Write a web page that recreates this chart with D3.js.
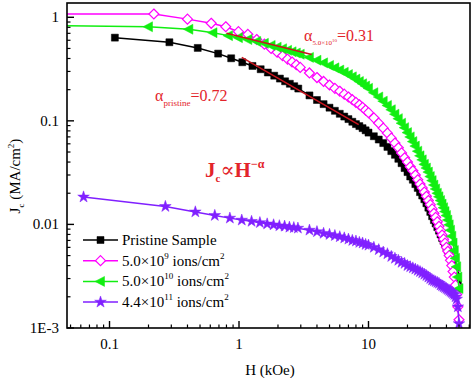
<!DOCTYPE html>
<html>
<head>
<meta charset="utf-8">
<script src="https://cdn.jsdelivr.net/npm/d3@7"></script>
<style>
  html, body { margin: 0; padding: 0; background: #fff; }
</style>
</head>
<body>
<div id="chart"></div>
<script>
// H (kOe) and Jc (MA/cm2)
const hPristine = [0.11, 0.29, 0.48, 0.69, 0.87, 1.06, 1.27, 1.47, 1.67, 1.87, 2.07, 2.27, 2.47, 2.67, 2.87, 3.5, 4, 4.5, 5, 5.5, 6, 6.5, 7, 7.5, 8, 8.5, 9, 9.5, 10,
  11, 12, 13, 14, 15, 16, 17, 18, 19, 20, 21, 22, 23, 24, 25, 26, 27, 28, 29, 30, 31, 32, 33, 34, 35, 36, 37, 38, 39, 40, 41, 42, 43, 44, 45, 46, 47, 48, 49, 50]
const jPristine = [0.636, 0.574, 0.506, 0.446, 0.402, 0.368, 0.339, 0.315, 0.293, 0.273, 0.256, 0.241, 0.228, 0.216, 0.205, 0.176, 0.159, 0.145, 0.134, 0.125, 0.117, 0.11, 0.104, 0.098, 0.093, 0.089, 0.085, 0.081, 0.077,
  0.071, 0.066, 0.061, 0.056, 0.051, 0.047, 0.043, 0.039, 0.035, 0.032, 0.029, 0.027, 0.0245, 0.0225, 0.0205, 0.019, 0.0175, 0.016, 0.0145, 0.0132, 0.012, 0.011, 0.0102, 0.0094, 0.0087, 0.008, 0.0074, 0.0069, 0.0064, 0.006, 0.0056, 0.0052, 0.0048, 0.0045, 0.0041, 0.0038, 0.0034, 0.0031, 0.0027, 0.0024]

const hIon9 = [0.02, 0.22, 0.40, 0.61, 0.79, 0.99, 1.17, 1.37, 1.57, 1.77, 1.97, 2.17, 2.37, 2.57, 2.77, 2.97, 3.5, 4, 4.5, 5, 5.5, 6, 6.5, 7, 7.5, 8, 8.5, 9, 9.5, 10,
  11, 12, 13, 14, 15, 16, 17, 18, 19, 20, 21, 22, 23, 24, 25, 26, 27, 28, 29, 30, 31, 32, 33, 34, 35, 36, 37, 38, 39, 40, 41, 42, 43, 44, 45, 46, 47, 48, 49, 50]
const jIon9 = [1.08, 1.076, 0.96, 0.875, 0.81, 0.726, 0.685, 0.61, 0.55, 0.5, 0.46, 0.425, 0.395, 0.37, 0.348, 0.328, 0.29, 0.262, 0.24, 0.222, 0.206, 0.193, 0.181, 0.17, 0.16, 0.151, 0.143, 0.135, 0.127, 0.12,
  0.107, 0.095, 0.085, 0.076, 0.068, 0.061, 0.055, 0.049, 0.044, 0.04, 0.036, 0.033, 0.03, 0.027, 0.0245, 0.0225, 0.0205, 0.0187, 0.017, 0.0155, 0.0141, 0.0128, 0.0117, 0.0106, 0.0096, 0.0087, 0.0079, 0.0072, 0.0066, 0.006, 0.0055, 0.005, 0.0045, 0.004, 0.0035, 0.0031, 0.0026, 0.0021, 0.0016, 0.0012]

const hIon10 = [0.02, 0.20, 0.41, 0.63, 0.83, 0.99, 1.17, 1.37, 1.57, 1.77, 1.97, 2.17, 2.37, 2.57, 2.77, 2.97, 3.5, 4, 4.5, 5, 5.5, 6, 6.5, 7, 7.5, 8, 8.5, 9, 9.5, 10,
  11, 12, 13, 14, 15, 16, 17, 18, 19, 20, 21, 22, 23, 24, 25, 26, 27, 28, 29, 30, 31, 32, 33, 34, 35, 36, 37, 38, 39, 40, 41, 42, 43, 44, 45, 46, 47, 48, 49, 50]
const jIon10 = [0.84, 0.81, 0.766, 0.71, 0.665, 0.636, 0.61, 0.585, 0.56, 0.535, 0.515, 0.497, 0.48, 0.465, 0.452, 0.44, 0.41, 0.385, 0.363, 0.343, 0.325, 0.309, 0.294, 0.28, 0.266, 0.253, 0.24, 0.228, 0.217, 0.206,
  0.187, 0.17, 0.155, 0.141, 0.128, 0.116, 0.105, 0.095, 0.086, 0.077, 0.07, 0.063, 0.057, 0.051, 0.046, 0.042, 0.038, 0.035, 0.032, 0.029, 0.0265, 0.024, 0.022, 0.02, 0.0185, 0.017, 0.0157, 0.0145, 0.0133, 0.0122, 0.011, 0.0099, 0.0088, 0.0077, 0.0066, 0.0056, 0.0047, 0.0039, 0.0031, 0.0024]

const hIon11 = [0.063, 0.27, 0.46, 0.65, 0.85, 1.05, 1.25, 1.45, 1.65, 1.85, 2.05, 2.25, 2.45, 2.65, 2.85, 3.5, 4, 4.5, 5, 5.5, 6, 6.5, 7, 7.5, 8, 8.5, 9, 9.5, 10,
  11, 12, 13, 14, 15, 16, 17, 18, 19, 20, 21, 22, 23, 24, 25, 26, 27, 28, 29, 30, 31, 32, 33, 34, 35, 36, 37, 38, 39, 40, 41, 42, 43, 44, 45, 46, 47, 48, 49, 50]
const jIon11 = [0.0184, 0.0149, 0.0132, 0.0122, 0.0115, 0.011, 0.0107, 0.0104, 0.0101, 0.0099, 0.0097, 0.0096, 0.0094, 0.0093, 0.0092, 0.0088, 0.0085, 0.0082, 0.008, 0.0078, 0.0076, 0.0074, 0.0072, 0.007, 0.0069, 0.0067, 0.0066, 0.0064, 0.0063,
  0.006, 0.0057, 0.0054, 0.0052, 0.0049, 0.0047, 0.0045, 0.0043, 0.0042, 0.004, 0.0039, 0.0038, 0.0037, 0.0036, 0.0035, 0.0034, 0.0033, 0.0032, 0.0031, 0.003, 0.0029, 0.00285, 0.0028, 0.00275, 0.0027, 0.0026, 0.00255, 0.0025, 0.00245, 0.0024, 0.00235, 0.0023, 0.00225, 0.0022, 0.00215, 0.0021, 0.002, 0.0019, 0.0016, 0.0011]

// power-law fits: [H start, J start, H end, J end]
const fitPristine = [1.05, 0.41, 8.4, 0.092]
const fitIon10 = [0.80, 0.70, 3.64, 0.437]

const xTicks = [0.1, 1, 10]
const xTickLabels = ["0.1", "1", "10"]
const yTicks = [1, 0.1, 0.01, 0.001]
const yTickLabels = ["1", "0.1", "0.01", "1E-3"]

const width = 474, height = 378
const margin = {left: 67, right: 4, top: 3, bottom: 50}
const serif = "'Liberation Serif', 'Times New Roman', 'DejaVu Serif', serif"

const svg = d3.select("#chart").append("svg")
  .attr("width", width).attr("height", height)
  .attr("font-family", serif)
  .style("display", "block")

const x = d3.scaleLog().domain([0.04695, 60.8]).range([margin.left, width - margin.right])
const y = d3.scaleLog().domain([0.000999, 1.374]).range([height - margin.bottom, margin.top])

// 裁剪区域
svg.append("clipPath").attr("id", "plotClip").append("rect")
  .attr("x", margin.left).attr("y", margin.top)
  .attr("width", width - margin.left - margin.right)
  .attr("height", height - margin.top - margin.bottom)

const plot = svg.append("g").attr("clip-path", "url(#plotClip)")

const series = [
  {name: "pristine", h: hPristine, j: jPristine, color: "#000000", shape: "square"},
  {name: "ion9", h: hIon9, j: jIon9, color: "#ff00ff", shape: "diamond"},
  {name: "ion10", h: hIon10, j: jIon10, color: "#11ee11", shape: "triangle"},
  {name: "ion11", h: hIon11, j: jIon11, color: "#8020ff", shape: "star"}
]

function markerPath(shape) {
  if (shape === "square") return "M-3.5,-3.5H3.5V3.5H-3.5Z"
  if (shape === "diamond") return "M0,-5L5,0L0,5L-5,0Z"
  if (shape === "triangle") return "M-5.5,0L4,-5L4,5Z"
  return d3.symbol(d3.symbolStar, 42)()
}

const line = d3.line().x(d => x(d[0])).y(d => y(d[1]))

series.forEach(s => {
  const pts = s.h.map((h, i) => [h, s.j[i]])
  plot.append("path").datum(pts)
    .attr("fill", "none").attr("stroke", s.color).attr("stroke-width", 1.5)
    .attr("d", line)
  plot.append("g").selectAll("path").data(pts).enter().append("path")
    .attr("transform", d => `translate(${x(d[0])},${y(d[1])})`)
    .attr("d", markerPath(s.shape))
    .attr("fill", s.shape === "diamond" ? "#ffffff" : s.color)
    .attr("stroke", s.color)
    .attr("stroke-width", s.shape === "diamond" ? 1.2 : 0.5)
})

// 拟合直线
;[fitPristine, fitIon10].forEach(f => {
  plot.append("line")
    .attr("x1", x(f[0])).attr("y1", y(f[1]))
    .attr("x2", x(f[2])).attr("y2", y(f[3]))
    .attr("stroke", "#c8141e").attr("stroke-width", 1.6)
})

// 坐标框
svg.append("rect")
  .attr("x", margin.left).attr("y", margin.top)
  .attr("width", width - margin.left - margin.right)
  .attr("height", height - margin.top - margin.bottom)
  .attr("fill", "none").attr("stroke", "#000").attr("stroke-width", 1.6)

// x轴刻度 (向内)
const xb = height - margin.bottom
const xMinor = []
for (let d = -2; d <= 1; d++) for (let m = 2; m <= 9; m++) {
  const v = m * Math.pow(10, d)
  if (v > x.domain()[0] && v < x.domain()[1]) xMinor.push(v)
}
svg.append("g").selectAll("line").data(xMinor).enter().append("line")
  .attr("x1", d => x(d)).attr("x2", d => x(d)).attr("y1", xb).attr("y2", xb - 3.5)
  .attr("stroke", "#000").attr("stroke-width", 1.2)
svg.append("g").selectAll("line").data(xTicks).enter().append("line")
  .attr("x1", d => x(d)).attr("x2", d => x(d)).attr("y1", xb).attr("y2", xb - 7)
  .attr("stroke", "#000").attr("stroke-width", 1.4)
svg.append("g").selectAll("text").data(xTicks).enter().append("text")
  .attr("x", d => x(d)).attr("y", 349).attr("text-anchor", "middle")
  .attr("font-size", 15).text((d, i) => xTickLabels[i])

// y轴刻度
const yl = margin.left
const yMinor = []
for (let d = -3; d <= 0; d++) for (let m = 2; m <= 9; m++) {
  const v = m * Math.pow(10, d)
  if (v > y.domain()[0] && v < y.domain()[1]) yMinor.push(v)
}
svg.append("g").selectAll("line").data(yMinor).enter().append("line")
  .attr("y1", d => y(d)).attr("y2", d => y(d)).attr("x1", yl).attr("x2", yl + 3.5)
  .attr("stroke", "#000").attr("stroke-width", 1.2)
svg.append("g").selectAll("line").data(yTicks).enter().append("line")
  .attr("y1", d => y(d)).attr("y2", d => y(d)).attr("x1", yl).attr("x2", yl + 7)
  .attr("stroke", "#000").attr("stroke-width", 1.4)
svg.append("g").selectAll("text").data(yTicks).enter().append("text")
  .attr("x", 59).attr("y", d => y(d) + 5).attr("text-anchor", "end")
  .attr("font-size", 15).text((d, i) => yTickLabels[i])

// 轴标题
svg.append("text").attr("x", 270).attr("y", 375).attr("text-anchor", "middle")
  .attr("font-size", 15).text("H (kOe)")
const yt = svg.append("text").attr("transform", "translate(20,176) rotate(-90)")
  .attr("text-anchor", "middle").attr("font-size", 15)
yt.append("tspan").text("J")
yt.append("tspan").attr("font-size", 9).attr("dy", 4).text("c")
yt.append("tspan").attr("dy", -4).text(" (MA/cm")
yt.append("tspan").attr("font-size", 9).attr("dy", -6).text("2")
yt.append("tspan").attr("dy", 6).text(")")

// 注释
const red = "#e3242b"
const a1 = svg.append("text").attr("x", 304).attr("y", 41).attr("fill", red).attr("font-size", 16)
a1.append("tspan").text("α")
a1.append("tspan").attr("font-size", 7).attr("dy", 4).text("5.0×10")
a1.append("tspan").attr("font-size", 5).attr("dy", -3).text("10")
a1.append("tspan").attr("dy", -1).text("=0.31")

const a2 = svg.append("text").attr("x", 155).attr("y", 101).attr("fill", red).attr("font-size", 16)
a2.append("tspan").text("α")
a2.append("tspan").attr("font-size", 9).attr("dy", 5).text("pristine")
a2.append("tspan").attr("dy", -5).text("=0.72")

const a3 = svg.append("text").attr("x", 205).attr("y", 177).attr("fill", red)
  .attr("font-size", 21).attr("font-weight", "bold")
a3.append("tspan").text("J")
a3.append("tspan").attr("font-size", 11).attr("dy", 5).text("c")
a3.append("tspan").attr("dy", -5).attr("font-weight", "normal").text("∝")
a3.append("tspan").text("H")
a3.append("tspan").attr("font-size", 12).attr("dy", -9).text("−α")

// 图例
const legendLabels = [
  ["Pristine Sample"],
  ["5.0×10", "9", " ions/cm", "2"],
  ["5.0×10", "10", " ions/cm", "2"],
  ["4.4×10", "11", " ions/cm", "2"]
]
series.forEach((s, i) => {
  const ly = 240 + i * 20.7
  const g = svg.append("g")
  g.append("line").attr("x1", 83).attr("x2", 118).attr("y1", ly).attr("y2", ly)
    .attr("stroke", s.color).attr("stroke-width", 1.5)
  g.append("path").attr("transform", `translate(100.5,${ly})`).attr("d", markerPath(s.shape))
    .attr("fill", s.shape === "diamond" ? "#ffffff" : s.color)
    .attr("stroke", s.color).attr("stroke-width", s.shape === "diamond" ? 1.2 : 0.5)
  const t = g.append("text").attr("x", 122).attr("y", ly + 5).attr("font-size", 15)
  const parts = legendLabels[i]
  t.append("tspan").text(parts[0])
  if (parts.length > 1) {
    t.append("tspan").attr("font-size", 9).attr("dy", -7).text(parts[1])
    t.append("tspan").attr("dy", 7).text(parts[2])
    t.append("tspan").attr("font-size", 9).attr("dy", -7).text(parts[3])
  }
})
</script>
</body>
</html>
